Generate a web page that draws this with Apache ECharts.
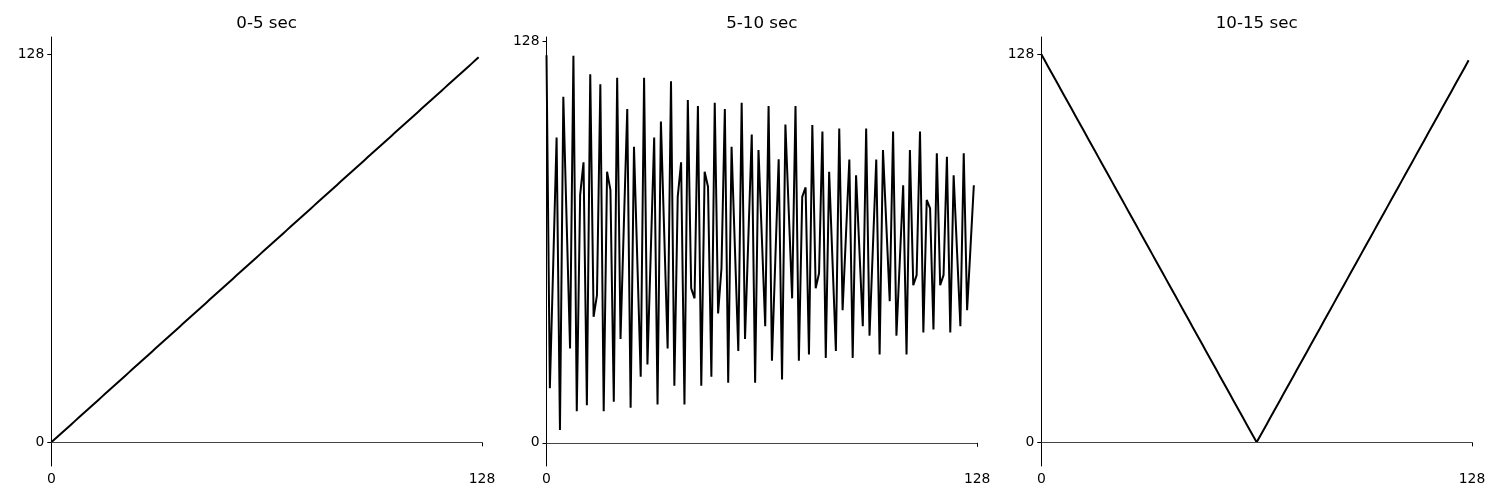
<!DOCTYPE html>
<html>
<head>
<meta charset="utf-8">
<script src="https://cdn.jsdelivr.net/npm/echarts@6/dist/echarts.min.js"></script>
<style>html,body{margin:0;padding:0;background:#fff}#c{width:1500px;height:500px}</style>
</head>
<body>
<div id="c"></div>
<script>
// Panel titles
const titles = ['0-5 sec', '5-10 sec', '10-15 sec'];
// Tick values shown on both axes
const xTicks = [0, 128];
const yTicks = [0, 128];

// Panel 1: rising ramp (0-5 sec)
const ramp = [0,1,2,3,4,5,6,7,8,9,10,11,12,13,14,15,16,17,18,19,20,21,22,23,24,25,26,27,28,29,30,31,
32,33,34,35,36,37,38,39,40,41,42,43,44,45,46,47,48,49,50,51,52,53,54,55,56,57,58,59,60,61,62,63,
64,65,66,67,68,69,70,71,72,73,74,75,76,77,78,79,80,81,82,83,84,85,86,87,88,89,90,91,92,93,94,95,
96,97,98,99,100,101,102,103,104,105,106,107,108,109,110,111,112,113,114,115,116,117,118,119,120,121,122,123,124,125,126,127];

// Panel 2: oscillating signal (5-10 sec)
const wave = [123.7,17.4,57,97.4,4.1,110.4,70,30.1,123.5,10.1,79.1,89.5,12.0,117.6,40.2,47.1,
114.4,10.1,86.5,80.7,13.1,116.5,33.1,70,106.5,11.2,94.5,57.8,21.1,116.5,25.0,61.2,
97.4,12.2,102.5,66.3,30.1,115.4,18.2,78.5,89.5,12.2,109.4,49.3,46.1,107.5,18.2,86.5,
81.7,21.1,108.5,41.3,55.7,106.5,19.2,94.5,62.0,29.3,108.5,33.1,65.8,98.4,19.2,93.4,
65.5,37.2,107.5,26.2,58.3,90.5,20.2,101.6,73.8,46.1,107.5,26.2,78.5,81.5,28.2,101.4,
49.3,54.1,99.3,27.1,86.5,57.9,29.3,100.3,42.3,66.3,90.4,27.1,85.4,61.3,37.2,100.3,
34.2,62.3,90.4,28.2,93.4,69.4,45.2,99.3,34.2,58.2,82.2,28.2,93.4,50.3,53.5,99.3,
35.2,77.5,74.8,36.2,92.4,50.3,53.5,91.3,35.2,85.4,61.3,37.2,92.4,42.3,62.2,82.2];

// Panel 3: V shape (10-15 sec)
const vee = [128,126,124,122,120,118,116,114,112,110,108,106,104,102,100,98,96,94,92,90,88,86,84,82,
80,78,76,74,72,70,68,66,64,62,60,58,56,54,52,50,48,46,44,42,40,38,36,34,32,30,28,26,24,22,20,18,
16,14,12,10,8,6,4,2,0,2,4,6,8,10,12,14,16,18,20,22,24,26,28,30,32,34,36,38,40,42,44,46,48,50,
52,54,56,58,60,62,64,66,68,70,72,74,76,78,80,82,84,86,88,90,92,94,96,98,100,102,104,106,108,110,
112,114,116,118,120,122,124,126];

const panels = [ramp, wave, vee];
const yRanges = [[-7.8, 133.7], [-7.4, 129.5], [-7.8, 133.7]];
const lefts = [51.3, 546.5, 1041.3];
const W = 430.7;
const FONT = 'DejaVu Sans';

const chart = echarts.init(document.getElementById('c'), null, {renderer: 'canvas'});
const option = {
  animation: false,
  backgroundColor: '#ffffff',
  title: titles.map((t, k) => ({
    text: t, left: lefts[k] + W / 2, top: 15, textAlign: 'center', padding: 0,
    textStyle: {fontFamily: FONT, fontSize: 16.7, fontWeight: 'normal', color: '#000'}
  })),
  grid: lefts.map(l => ({left: l, width: W, top: 37, height: 429, containLabel: false})),
  xAxis: lefts.map((l, k) => ({
    type: 'value', gridIndex: k, min: 0, max: 128,
    axisLine: {show: false},
    axisTick: {show: true, length: 4, customValues: xTicks, lineStyle: {color: '#000', width: 1}},
    axisLabel: {show: true, customValues: xTicks, margin: 6, color: '#000', fontFamily: FONT, fontSize: 13.9},
    splitLine: {show: false}
  })),
  yAxis: lefts.map((l, k) => ({
    type: 'value', gridIndex: k, min: yRanges[k][0], max: yRanges[k][1],
    axisLine: {show: true, onZero: false, lineStyle: {color: '#000', width: 1}},
    axisTick: {show: true, length: 4, customValues: yTicks, lineStyle: {color: '#000', width: 1}},
    axisLabel: {show: true, customValues: yTicks, margin: 7, color: '#000', fontFamily: FONT, fontSize: 13.9},
    splitLine: {show: false}
  })),
  series: panels.map((arr, k) => ({
    type: 'line', xAxisIndex: k, yAxisIndex: k,
    data: arr.map((v, i) => [i, v]),
    showSymbol: false, symbol: 'none',
    lineStyle: {color: '#000', width: 2},
    clip: false,
    markLine: {
      silent: true, symbol: 'none', label: {show: false},
      lineStyle: {color: '#444', width: 1, type: 'solid'},
      data: [{yAxis: 0}]
    },
    z: 3
  }))
};
chart.setOption(option);
</script>
</body>
</html>
